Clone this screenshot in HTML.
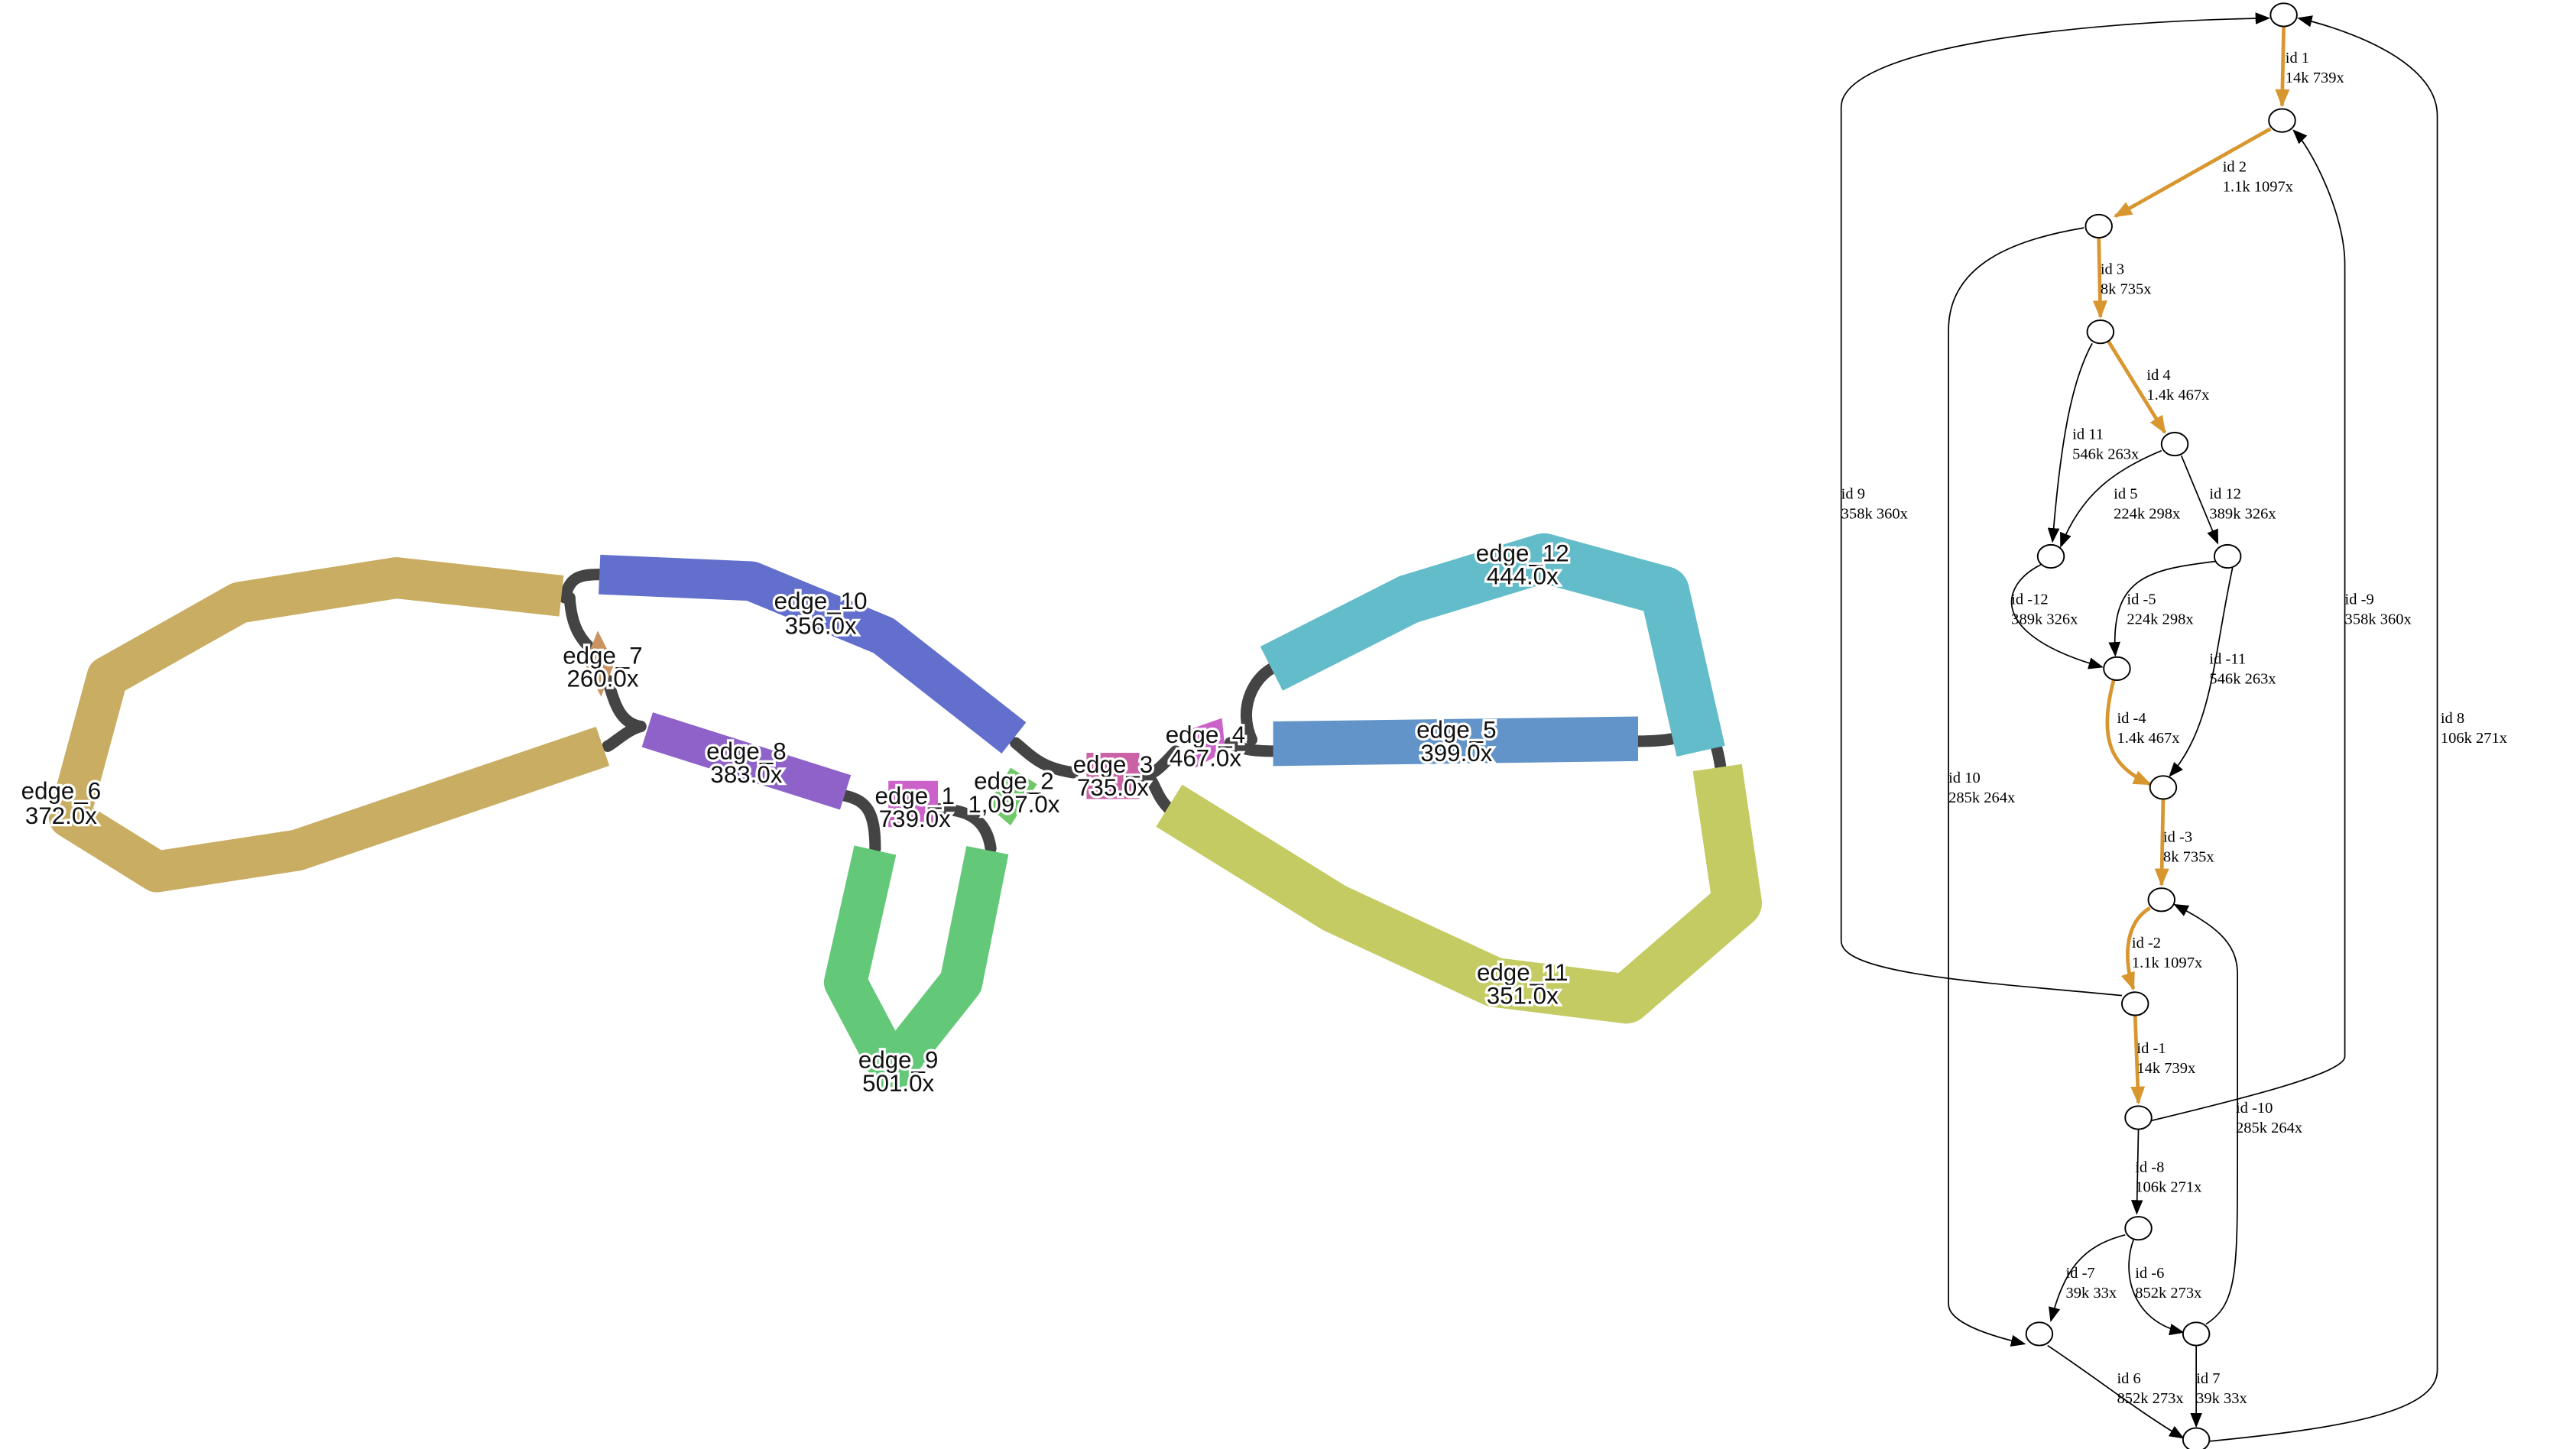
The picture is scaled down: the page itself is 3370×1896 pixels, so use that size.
<!DOCTYPE html>
<html><head><meta charset="utf-8"><style>
html,body{margin:0;padding:0;background:#fff;width:3370px;height:1896px;overflow:hidden}
svg{display:block}
.lb{font-family:"Liberation Sans",sans-serif;font-size:14.5px;fill:#111;stroke:#fff;stroke-width:3px;paint-order:stroke;text-anchor:middle}
.rl{font-family:"Liberation Serif",serif;font-size:9.5px;fill:#000}
.c{fill:none;stroke:#444;stroke-width:7;stroke-linecap:round}
.t{fill:none;stroke-linejoin:round}
.n{fill:#fff;stroke:#000;stroke-width:0.9}
.e{fill:none;stroke:#000;stroke-width:0.8}
.o{fill:none;stroke:#D8962F;stroke-width:2.2}
</style></head><body>
<svg width="3370" height="1896" viewBox="0 0 1560 877.7" preserveAspectRatio="none">
<defs>
<marker id="ab" viewBox="0 0 10 10" refX="9" refY="5" markerWidth="9" markerHeight="9" markerUnits="userSpaceOnUse" orient="auto"><path d="M0,1L10,5L0,9z" fill="#000"/></marker>
<marker id="ao" viewBox="0 0 10 10" refX="9" refY="5" markerWidth="11" markerHeight="11" markerUnits="userSpaceOnUse" orient="auto"><path d="M0,1L10,5L0,9z" fill="#D8962F"/></marker>
</defs>
<!-- connectors -->
<path class="c" d="M342,362 C345,350 350,348 363,348"/>
<path class="c" d="M345,362 C346,380 352,388 360,395"/>
<path class="c" d="M368,412 C372,425 375,438 388,440"/>
<path class="c" d="M388,440 C380,442 372,450 368,452"/>
<path class="c" d="M512,482 C525,485 530,492 530,514"/>
<path class="c" d="M565,490 C580,490 597,492 600,514"/>
<path class="c" d="M615,450 C625,458 630,465 650,468"/>
<path class="c" d="M690,470 C698,470 702,466 712,455"/>
<path class="c" d="M695,470 C700,475 700,482 708,490"/>
<path class="c" d="M758,448 C750,430 758,412 770,405"/>
<path class="c" d="M745,450 C752,454 758,455 772,455"/>
<path class="c" d="M990,449 C1020,449 1030,445 1030,428"/>
<path class="c" d="M1030,428 C1035,440 1040,450 1042,465"/>
<!-- thick edges -->
<polyline class="t" stroke="#C9AD62" stroke-width="25" points="340,361 240,350 145,365 65,410 42,495 95,528 180,515 365,452"/>
<polyline class="t" stroke="#636FCC" stroke-width="24" points="363,348 455,352 535,385 614,447"/>
<polygon fill="#C99462" points="362,382 372,402 364,422 354,402"/>
<polyline class="t" stroke="#8E62C9" stroke-width="22" points="392,442 512,480"/>
<rect x="538" y="473" width="30" height="28" fill="#CB62C9"/>
<polygon fill="#70C86A" points="612,465 628,475 612,500 598,488"/>
<rect x="658" y="456" width="32" height="28" fill="#CB62A6"/>
<polygon fill="#CB62C9" points="720,442 740,435 742,455 724,465"/>
<polyline class="t" stroke="#63C978" stroke-width="26" points="530,515 512,595 540,648 582,595 598,515"/>
<polyline class="t" stroke="#62BCC9" stroke-width="30" points="770,405 853,363 935,338 1008,358 1030,455"/>
<polygon fill="#6294C9" points="771,437 992,434 992,461 771,464"/>
<polyline class="t" stroke="#C4CB62" stroke-width="30" points="708,488 808,550 905,595 985,605 1052,547 1040,465"/>
<!-- labels -->
<text class="lb" x="37" y="484">edge_6</text><text class="lb" x="37" y="499">372.0x</text>
<text class="lb" x="497" y="369">edge_10</text><text class="lb" x="497" y="384">356.0x</text>
<text class="lb" x="365" y="402">edge_7</text><text class="lb" x="365" y="416">260.0x</text>
<text class="lb" x="452" y="460">edge_8</text><text class="lb" x="452" y="474">383.0x</text>
<text class="lb" x="554" y="487">edge_1</text><text class="lb" x="554" y="501">739.0x</text>
<text class="lb" x="614" y="478">edge_2</text><text class="lb" x="614" y="492">1,097.0x</text>
<text class="lb" x="674" y="468">edge_3</text><text class="lb" x="674" y="482">735.0x</text>
<text class="lb" x="730" y="450">edge_4</text><text class="lb" x="730" y="464">467.0x</text>
<text class="lb" x="544" y="647">edge_9</text><text class="lb" x="544" y="661">501.0x</text>
<text class="lb" x="922" y="340">edge_12</text><text class="lb" x="922" y="354">444.0x</text>
<text class="lb" x="882" y="447">edge_5</text><text class="lb" x="882" y="461">399.0x</text>
<text class="lb" x="922" y="594">edge_11</text><text class="lb" x="922" y="608">351.0x</text>
<!-- right graph edges -->
<path class="o" d="M1383,16 L1382,64" marker-end="url(#ao)"/>
<path class="o" d="M1375,78 L1281,131" marker-end="url(#ao)"/>
<path class="o" d="M1271,144 L1272,192" marker-end="url(#ao)"/>
<path class="o" d="M1277,207 L1311,262" marker-end="url(#ao)"/>
<path class="e" d="M1267,208 C1255,230 1248,265 1243,328" marker-end="url(#ab)"/>
<path class="e" d="M1309,273 C1280,285 1260,300 1248,331" marker-end="url(#ab)"/>
<path class="e" d="M1321,276 L1343,329" marker-end="url(#ab)"/>
<path class="e" d="M1236,342 C1210,355 1205,385 1273,404" marker-end="url(#ab)"/>
<path class="e" d="M1342,340 C1300,345 1278,350 1281,397" marker-end="url(#ab)"/>
<path class="e" d="M1352,344 C1340,400 1340,440 1314,470" marker-end="url(#ab)"/>
<path class="o" d="M1280,412 C1270,450 1280,465 1302,475" marker-end="url(#ao)"/>
<path class="o" d="M1310,484 L1309,536" marker-end="url(#ao)"/>
<path class="o" d="M1302,550 C1285,560 1287,585 1292,599" marker-end="url(#ao)"/>
<path class="o" d="M1293,615 L1295,668" marker-end="url(#ao)"/>
<path class="e" d="M1295,684 L1294,735" marker-end="url(#ab)"/>
<path class="e" d="M1287,748 C1260,755 1250,770 1242,800" marker-end="url(#ab)"/>
<path class="e" d="M1292,751 C1285,770 1290,800 1322,807" marker-end="url(#ab)"/>
<path class="e" d="M1330,815 L1330,864" marker-end="url(#ab)"/>
<path class="e" d="M1240,815 C1270,835 1295,855 1322,871" marker-end="url(#ab)"/>
<path class="e" d="M1336,802 C1355,790 1355,770 1355,700 L1355,590 C1355,570 1340,560 1317,548" marker-end="url(#ab)"/>
<path class="e" d="M1302,679 C1360,665 1420,650 1420,640 L1420,160 C1420,130 1400,90 1389,79" marker-end="url(#ab)"/>
<path class="e" d="M1285,603 C1200,595 1115,590 1115,570 L1115,65 C1115,30 1250,13 1374,11" marker-end="url(#ab)"/>
<path class="e" d="M1338,873 C1420,865 1476,855 1476,830 L1476,70 C1476,40 1430,20 1392,11" marker-end="url(#ab)"/>
<path class="e" d="M1262,138 C1220,145 1180,160 1180,200 L1180,790 C1180,800 1200,808 1226,814" marker-end="url(#ab)"/>
<!-- nodes -->
<g class="n">
<ellipse cx="1383" cy="9" rx="8" ry="7"/><ellipse cx="1382" cy="73" rx="8" ry="7"/>
<ellipse cx="1271" cy="137" rx="8" ry="7"/><ellipse cx="1272" cy="201" rx="8" ry="7"/>
<ellipse cx="1317" cy="269" rx="8" ry="7"/><ellipse cx="1242" cy="337" rx="8" ry="7"/>
<ellipse cx="1349" cy="337" rx="8" ry="7"/><ellipse cx="1282" cy="405" rx="8" ry="7"/>
<ellipse cx="1310" cy="477" rx="8" ry="7"/><ellipse cx="1309" cy="545" rx="8" ry="7"/>
<ellipse cx="1293" cy="608" rx="8" ry="7"/><ellipse cx="1295" cy="677" rx="8" ry="7"/>
<ellipse cx="1295" cy="744" rx="8" ry="7"/><ellipse cx="1235" cy="808" rx="8" ry="7"/>
<ellipse cx="1330" cy="808" rx="8" ry="7"/><ellipse cx="1330" cy="872" rx="8" ry="7"/>
</g>
<g class="rl">
<text x="1384" y="38">id 1</text><text x="1384" y="50">14k 739x</text>
<text x="1346" y="104">id 2</text><text x="1346" y="116">1.1k 1097x</text>
<text x="1272" y="166">id 3</text><text x="1272" y="178">8k 735x</text>
<text x="1300" y="230">id 4</text><text x="1300" y="242">1.4k 467x</text>
<text x="1255" y="266">id 11</text><text x="1255" y="278">546k 263x</text>
<text x="1280" y="302">id 5</text><text x="1280" y="314">224k 298x</text>
<text x="1338" y="302">id 12</text><text x="1338" y="314">389k 326x</text>
<text x="1218" y="366">id -12</text><text x="1218" y="378">389k 326x</text>
<text x="1288" y="366">id -5</text><text x="1288" y="378">224k 298x</text>
<text x="1338" y="402">id -11</text><text x="1338" y="414">546k 263x</text>
<text x="1282" y="438">id -4</text><text x="1282" y="450">1.4k 467x</text>
<text x="1310" y="510">id -3</text><text x="1310" y="522">8k 735x</text>
<text x="1291" y="574">id -2</text><text x="1291" y="586">1.1k 1097x</text>
<text x="1294" y="638">id -1</text><text x="1294" y="650">14k 739x</text>
<text x="1293" y="710">id -8</text><text x="1293" y="722">106k 271x</text>
<text x="1251" y="774">id -7</text><text x="1251" y="786">39k 33x</text>
<text x="1293" y="774">id -6</text><text x="1293" y="786">852k 273x</text>
<text x="1282" y="838">id 6</text><text x="1282" y="850">852k 273x</text>
<text x="1330" y="838">id 7</text><text x="1330" y="850">39k 33x</text>
<text x="1354" y="674">id -10</text><text x="1354" y="686">285k 264x</text>
<text x="1420" y="366">id -9</text><text x="1420" y="378">358k 360x</text>
<text x="1115" y="302">id 9</text><text x="1115" y="314">358k 360x</text>
<text x="1478" y="438">id 8</text><text x="1478" y="450">106k 271x</text>
<text x="1180" y="474">id 10</text><text x="1180" y="486">285k 264x</text>
</g>
</svg>
</body></html>
